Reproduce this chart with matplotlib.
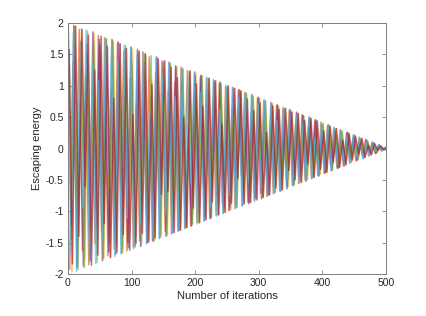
"""Escaping energy of the hawks over the iterations (MATLAB style line plot)"""
import numpy as np
import matplotlib.pyplot as plt

plt.rcParams['font.family'] = ['Liberation Sans', 'DejaVu Sans']

# iteration numbers where each run was sampled
iters = np.arange(0, 501, 5)

# escaping energy values, one list per plotted run
run_a = [1.83, -1.45, 0.62, -1.88, 1.71, -0.35, 1.52, -1.79, 0.94, -1.21,
         1.66, -0.88, 1.74, -1.52, 0.27, -1.69, 1.41, -0.73, 1.60, -1.58,
         1.12, -1.55, 1.49, -0.41, 1.37, -1.50, 0.83, -1.33, 1.44, -0.96,
         1.38, -1.17, 0.56, -1.34, 1.29, -0.68, 1.26, -1.25, 0.19, -1.20,
         1.15, -0.74, 1.16, -1.09, 0.48, -1.08, 1.05, -0.31, 1.02, -0.97,
         0.97, -0.92, 0.36, -0.93, 0.88, -0.57, 0.87, -0.84, 0.62, -0.80,
         0.78, -0.46, 0.75, -0.73, 0.22, -0.70, 0.66, -0.51, 0.63, -0.60,
         0.57, -0.58, 0.31, -0.53, 0.52, -0.27, 0.47, -0.46, 0.44, -0.39,
         0.38, -0.37, 0.18, -0.34, 0.31, -0.29, 0.27, -0.12, 0.24, -0.22,
         0.19, -0.17, 0.15, -0.14, 0.09, -0.10, 0.08, -0.06, 0.04, -0.02,
         0.0]
run_b = [-1.92, 1.37, -0.81, 1.90, -1.63, 1.18, -1.85, 0.47, -1.52, 1.80,
         -1.34, 1.77, -1.71, 0.95, -1.60, 1.68, -0.52, 1.55, -1.63, 1.12,
         -1.58, 0.71, -1.47, 1.54, -1.02, 1.46, -1.47, 1.21, -0.64, 1.40,
         -1.32, 0.93, -1.36, 1.05, -1.31, 1.30, -0.44, 1.24, -1.23, 0.87,
         -1.18, 1.14, -0.59, 1.12, -1.11, 0.77, -1.06, 1.04, -0.88, 0.99,
         -0.99, 0.64, -0.96, 0.93, -0.42, 0.89, -0.86, 0.55, -0.83, 0.81,
         -0.71, 0.77, -0.76, 0.38, -0.72, 0.69, -0.67, 0.64, -0.28, 0.61,
         -0.59, 0.41, -0.56, 0.54, -0.50, 0.35, -0.48, 0.45, -0.43, 0.42,
         -0.40, 0.36, -0.26, 0.33, -0.31, 0.30, -0.28, 0.25, -0.23, 0.15,
         -0.20, 0.18, -0.11, 0.14, -0.12, 0.09, -0.08, 0.05, -0.04, 0.01,
         0.0]
run_c = [0.41, -1.97, 1.64, -1.12, 1.91, -1.78, 0.88, -1.55, 1.83, -0.66,
         1.49, -1.76, 1.20, -1.73, 1.70, -0.99, 1.66, -1.61, 0.74, -1.57,
         1.59, -1.28, 1.55, -0.57, 1.52, -1.44, 1.10, -1.45, 1.39, -1.41,
         0.96, -1.37, 1.35, -0.81, 1.31, -1.29, 0.61, -1.26, 1.21, -1.05,
         1.19, -1.16, 0.83, -1.13, 1.10, -0.52, 1.07, -1.05, 0.71, -1.01,
         0.94, -0.97, 0.95, -0.66, 0.92, -0.89, 0.48, -0.85, 0.83, -0.58,
         0.80, -0.77, 0.52, -0.74, 0.71, -0.40, 0.68, -0.65, 0.57, -0.61,
         0.60, -0.37, 0.55, -0.54, 0.29, -0.50, 0.48, -0.44, 0.21, -0.41,
         0.39, -0.38, 0.35, -0.19, 0.32, -0.30, 0.24, -0.26, 0.20, -0.21,
         0.16, -0.18, 0.16, -0.07, 0.11, -0.10, 0.07, -0.05, 0.03, -0.02,
         0.0]
run_d = [-1.21, 1.96, -1.90, 0.73, -1.87, 1.66, -1.30, 1.86, -0.98, 1.74,
         -1.79, 0.58, -1.65, 1.74, -1.42, 1.70, -1.67, 0.86, -1.50, 1.62,
         -0.79, 1.58, -1.56, 1.26, -1.51, 0.49, -1.48, 1.46, -1.43, 0.90,
         -1.40, 1.37, -0.91, 1.32, -1.31, 1.04, -1.27, 0.36, -1.24, 1.22,
         -0.63, 1.17, -1.15, 0.94, -1.12, 1.09, -0.79, 1.06, -1.03, 0.45,
         -0.98, 0.97, -0.71, 0.94, -0.91, 0.30, -0.88, 0.86, -0.78, 0.82,
         -0.80, 0.60, -0.75, 0.73, -0.49, 0.70, -0.68, 0.33, -0.64, 0.62,
         -0.56, 0.58, -0.45, 0.53, -0.52, 0.50, -0.19, 0.46, -0.44, 0.30,
         -0.39, 0.38, -0.35, 0.27, -0.32, 0.14, -0.28, 0.26, -0.17, 0.22,
         -0.19, 0.13, -0.16, 0.14, -0.06, 0.10, -0.08, 0.06, -0.03, 0.02,
         0.0]
run_e = [1.97, -0.52, 1.95, -1.93, 1.28, -1.90, 1.87, -0.73, 1.70, -1.82,
         0.99, -1.75, 1.75, -0.64, 1.72, -1.54, 1.18, -1.66, 1.64, -0.85,
         1.35, -1.57, 0.67, -1.54, 1.51, -1.23, 1.48, -1.46, 0.92, -1.38,
         1.29, -1.38, 1.36, -1.20, 0.74, -1.30, 1.28, -1.02, 1.23, -1.21,
         0.98, -1.19, 1.16, -0.46, 1.12, -1.10, 1.02, -1.06, 1.04, -0.70,
         0.99, -0.81, 0.69, -0.94, 0.90, -0.63, 0.88, -0.86, 0.84, -0.37,
         0.79, -0.78, 0.76, -0.56, 0.72, -0.70, 0.41, -0.66, 0.64, -0.50,
         0.44, -0.58, 0.56, -0.33, 0.52, -0.49, 0.48, -0.46, 0.37, -0.42,
         0.40, -0.21, 0.36, -0.34, 0.17, -0.30, 0.28, -0.23, 0.24, -0.15,
         0.20, -0.18, 0.08, -0.14, 0.12, -0.04, 0.08, -0.06, 0.04, -0.01,
         0.0]
run_f = [-1.66, 1.85, -1.96, 1.52, -0.94, 1.89, -1.61, 1.36, -1.83, 1.08,
         -1.48, 1.73, -0.37, 1.62, -1.72, 1.42, -1.68, 1.65, -1.11, 1.61,
         -1.60, 1.47, -1.22, 1.53, -1.52, 0.61, -1.41, 1.45, -1.44, 1.18,
         -1.05, 1.38, -1.36, 0.82, -1.32, 1.27, -1.28, 1.14, -0.57, 1.19,
         -1.20, 0.89, -1.16, 1.14, -0.93, 1.10, -1.08, 0.62, -1.04, 1.01,
         -0.75, 0.98, -0.95, 0.81, -0.92, 0.90, -0.54, 0.85, -0.84, 0.71,
         -0.62, 0.78, -0.76, 0.66, -0.72, 0.44, -0.68, 0.66, -0.64, 0.55,
         -0.60, 0.51, -0.56, 0.40, -0.52, 0.50, -0.48, 0.16, -0.41, 0.40,
         -0.33, 0.38, -0.36, 0.34, -0.25, 0.30, -0.27, 0.19, -0.24, 0.22,
         -0.15, 0.18, -0.16, 0.10, -0.12, 0.10, -0.05, 0.06, -0.04, 0.02,
         0.0]
run_g = [1.57, -1.84, 1.95, -1.40, 1.90, -0.61, 1.81, -1.86, 1.25, -1.70,
         1.79, -1.20, 1.63, -1.74, 0.80, -1.66, 1.67, -1.37, 1.59, -1.62,
         0.54, -1.51, 1.55, -1.35, 1.50, -1.49, 1.02, -1.42, 1.43, -0.73,
         1.40, -0.69, 1.30, -1.34, 1.13, -1.30, 0.50, -1.26, 1.24, -0.95,
         1.03, -1.18, 0.67, -1.14, 1.12, -0.85, 1.08, -1.06, 0.39, -1.02,
         1.00, -0.87, 0.96, -0.48, 0.92, -0.88, 0.79, -0.86, 0.60, -0.82,
         0.73, -0.78, 0.26, -0.74, 0.68, -0.63, 0.62, -0.66, 0.64, -0.35,
         0.58, -0.50, 0.56, -0.54, 0.45, -0.25, 0.48, -0.46, 0.44, -0.33,
         0.28, -0.38, 0.36, -0.22, 0.32, -0.30, 0.13, -0.26, 0.24, -0.18,
         0.20, -0.09, 0.16, -0.14, 0.05, -0.10, 0.08, -0.03, 0.04, -0.02,
         0.0]

runs = [run_a, run_b, run_c, run_d, run_e, run_f, run_g]
# matlab default colour order
colors = ['#0072BD', '#D95319', '#EDB120', '#7E2F8E', '#77AC30', '#4DBEEE', '#A2142F']
# each run is drawn a little shifted so the strokes don't all cross at the same spots
shifts = [0, 2.9, 1.4, 4.3, 0.7, 3.6, 2.1]

fig = plt.figure(figsize=(4.27, 3.16), dpi=100)
ax = fig.add_axes([0.159, 0.133, 0.745, 0.794])

for run, col, sh in zip(runs, colors, shifts):
    ax.plot(iters + sh, run, color=col, linewidth=1.1, alpha=0.65)

ax.set_xlim(0, 500)
ax.set_ylim(-2, 2)
ax.set_xticks(np.arange(0, 501, 100))
ax.set_yticks(np.arange(-2, 2.01, 0.5))
ax.set_yticklabels(['-2', '-1.5', '-1', '-0.5', '0', '0.5', '1', '1.5', '2'])
ax.tick_params(direction='in', top=True, right=True, length=3, width=0.6,
               labelsize=7.5, colors='#808080', labelcolor='#262626', pad=3)
for sp in ax.spines.values():
    sp.set_color('#808080')
    sp.set_linewidth(0.7)
ax.set_xlabel('Number of iterations', fontsize=8, color='#262626', labelpad=2)
ax.set_ylabel('Escaping energy', fontsize=8, color='#262626', labelpad=3)

fig.savefig('out.png', dpi=100)
